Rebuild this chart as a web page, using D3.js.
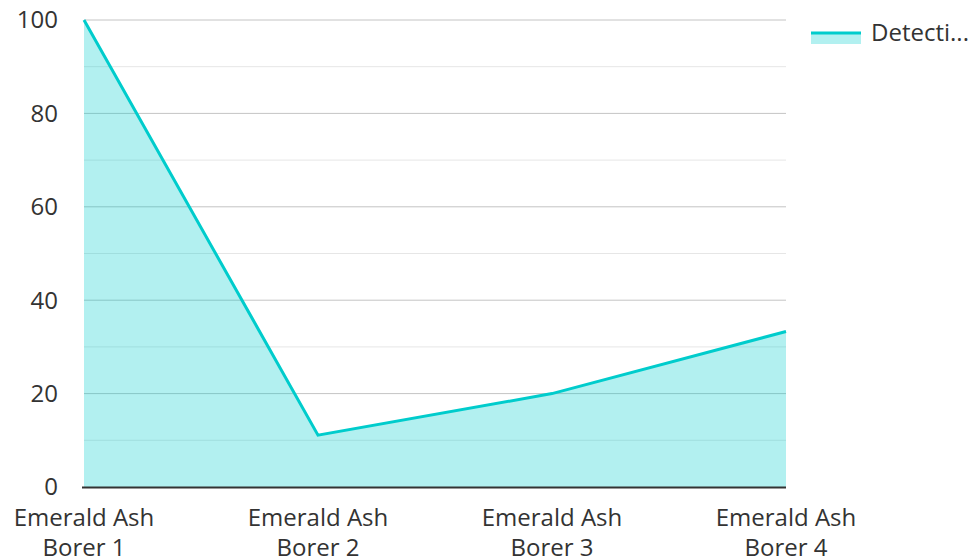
<!DOCTYPE html>
<html>
<head>
<meta charset="utf-8">
<script src="https://cdn.jsdelivr.net/npm/d3@7"></script>
<style>
  body { margin: 0; background: #fff; }
  svg { font-family: 'Open Sans', sans-serif; }
</style>
</head>
<body>
<svg></svg>
<script>
const categories = ['Emerald Ash Borer 1', 'Emerald Ash Borer 2', 'Emerald Ash Borer 3', 'Emerald Ash Borer 4'];
const values = [100, 11.1, 20, 33.3];
const yTicks = [0, 20, 40, 60, 80, 100];
const seriesName = 'Detecti...';

const width = 973;
const height = 558;
const margin = { top: 20, right: 187, bottom: 71, left: 84 };
const fontSize = 24;

const svg = d3.select('svg')
  .attr('width', width)
  .attr('height', height);

const x = d3.scalePoint()
  .domain(categories)
  .range([margin.left, width - margin.right]);

const y = d3.scaleLinear()
  .domain([0, 100])
  .range([height - margin.bottom, margin.top]);

// minor grid
svg.append('g')
  .selectAll('line')
  .data(d3.range(10, 100, 20))
  .enter().append('line')
  .attr('x1', margin.left)
  .attr('x2', width - margin.right)
  .attr('y1', d => y(d))
  .attr('y2', d => y(d))
  .attr('stroke', '#e6e6e6')
  .attr('stroke-width', 1);

// major grid
svg.append('g')
  .selectAll('line')
  .data(yTicks.filter(d => d > 0))
  .enter().append('line')
  .attr('x1', margin.left)
  .attr('x2', width - margin.right)
  .attr('y1', d => y(d))
  .attr('y2', d => y(d))
  .attr('stroke', '#c4c4c4')
  .attr('stroke-width', 1);

const data = categories.map((c, i) => ({ cat: c, value: values[i] }));

const area = d3.area()
  .x(d => x(d.cat))
  .y0(y(0))
  .y1(d => y(d.value));

const line = d3.line()
  .x(d => x(d.cat))
  .y(d => y(d.value));

svg.append('path')
  .datum(data)
  .attr('d', area)
  .attr('fill', '#00cccc')
  .attr('fill-opacity', 0.3);

svg.append('path')
  .datum(data)
  .attr('d', line)
  .attr('fill', 'none')
  .attr('stroke', '#00cccc')
  .attr('stroke-width', 3);

// x axis line
svg.append('line')
  .attr('x1', margin.left - 2)
  .attr('x2', width - margin.right)
  .attr('y1', y(0) + 0.5)
  .attr('y2', y(0) + 0.5)
  .attr('stroke', '#333')
  .attr('stroke-width', 2);

// y labels
svg.append('g')
  .selectAll('text')
  .data(yTicks)
  .enter().append('text')
  .attr('x', 58)
  .attr('y', d => y(d))
  .attr('dy', '0.35em')
  .attr('text-anchor', 'end')
  .attr('fill', '#333')
  .attr('font-size', fontSize)
  .text(d => d);

// x labels
const xl = svg.append('g')
  .selectAll('text')
  .data(categories)
  .enter().append('text')
  .attr('text-anchor', 'middle')
  .attr('fill', '#333')
  .attr('font-size', fontSize);

xl.append('tspan')
  .attr('x', d => x(d))
  .attr('y', 526)
  .text(d => d.split(' ').slice(0, 2).join(' '));

xl.append('tspan')
  .attr('x', d => x(d))
  .attr('y', 556)
  .text(d => d.split(' ').slice(2).join(' '));

// legend
const legend = svg.append('g');
legend.append('rect')
  .attr('x', 811)
  .attr('y', 33)
  .attr('width', 50)
  .attr('height', 11)
  .attr('fill', '#00cccc')
  .attr('fill-opacity', 0.3);
legend.append('line')
  .attr('x1', 811)
  .attr('x2', 861)
  .attr('y1', 33)
  .attr('y2', 33)
  .attr('stroke', '#00cccc')
  .attr('stroke-width', 3);
legend.append('text')
  .attr('x', 871)
  .attr('y', 41)
  .attr('font-size', fontSize)
  .attr('fill', '#333')
  .text(seriesName);
</script>
</body>
</html>
